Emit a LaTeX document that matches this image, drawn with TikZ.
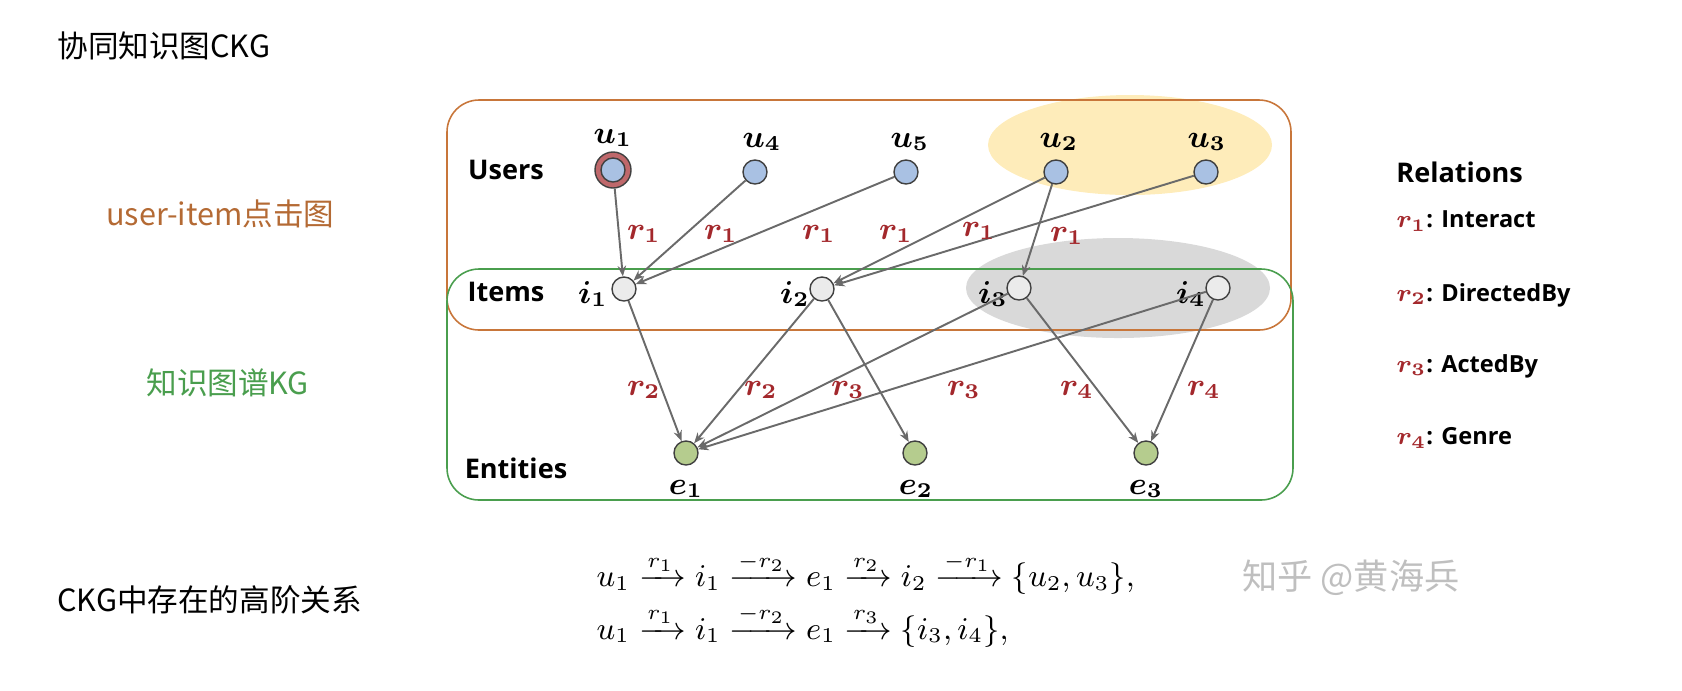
\documentclass[tikz,border=0pt]{standalone}
\usepackage{fontspec}
\usepackage{amsmath,bm}
\setmainfont{Open Sans}
\newfontfamily\cjk{Noto Sans CJK SC}
\usetikzlibrary{arrows.meta}
\definecolor{rred}{HTML}{A3282C}
\definecolor{ublue}{HTML}{A9C1E3}
\definecolor{egreen}{HTML}{B5CC8E}
\definecolor{obox}{HTML}{C8763A}
\definecolor{gbox}{HTML}{4A9E4E}
\definecolor{edge}{HTML}{6A6A6A}
\begin{document}
\begin{tikzpicture}[x=0.01cm,y=-0.01cm,
  user/.style={circle,draw=black!75,line width=0.4pt,fill=ublue,minimum size=0.24cm,inner sep=0},
  item/.style={circle,draw=black!75,line width=0.4pt,fill=black!8,minimum size=0.24cm,inner sep=0},
  ent/.style={circle,draw=black!75,line width=0.4pt,fill=egreen,minimum size=0.24cm,inner sep=0},
  lab/.style={font=\fontsize{8.7}{10}\selectfont},
  row/.style={font=\fontsize{7.7}{9}\selectfont\bfseries},
  rl/.style={text=rred,font=\fontsize{8.7}{10}\selectfont},
  rel/.style={font=\fontsize{6.7}{8}\selectfont\bfseries,anchor=west},
  ar/.style={draw=edge,line width=0.55pt,-{Stealth[length=3pt,width=2.4pt]}},
  cjkt/.style={font=\fontsize{8.7}{10}\selectfont\cjk,anchor=west}]
\useasboundingbox (0,0) rectangle (1682,690);
% ellipses
\fill[fill=yellow!50!orange!25] (1130,145) ellipse [x radius=142,y radius=50];
\fill[fill=black!15] (1118,288) ellipse [x radius=152,y radius=50];
% boxes
\draw[obox,line width=0.45pt,rounded corners=0.32cm] (447,100) rectangle (1291,330);
\draw[gbox,line width=0.45pt,rounded corners=0.32cm] (447,269) rectangle (1293,500);
% nodes
\node[circle,draw=black!75,line width=0.4pt,fill=rred!70,minimum size=0.36cm,inner sep=0] (u1o) at (613,170) {};
\node[user] (u1) at (613,170) {};
\node[user] (u4) at (755,172) {};
\node[user] (u5) at (906,172) {};
\node[user] (u2) at (1056,172) {};
\node[user] (u3) at (1206,172) {};
\node[item] (i1) at (624,289) {};
\node[item] (i2) at (822,289) {};
\node[item] (i3) at (1019,288) {};
\node[item] (i4) at (1218,288) {};
\node[ent] (e1) at (686,453) {};
\node[ent] (e2) at (915,453) {};
\node[ent] (e3) at (1146,453) {};
% node labels
\node[lab] (lu1) at (613,138) {$\bm{u_1}$};
\node[lab] (lu4) at (762,142) {$\bm{u_4}$};
\node[lab] (lu5) at (910,142) {$\bm{u_5}$};
\node[lab] (lu2) at (1059,142) {$\bm{u_2}$};
\node[lab] (lu3) at (1207,142) {$\bm{u_3}$};
\node[lab] (li1) at (593,294) {$\bm{i_1}$};
\node[lab] (li2) at (795,294) {$\bm{i_2}$};
\node[lab] (li3) at (993,294) {$\bm{i_3}$};
\node[lab] (li4) at (1191,294) {$\bm{i_4}$};
\node[lab] (le1) at (686,489) {$\bm{e_1}$};
\node[lab] (le2) at (916,489) {$\bm{e_2}$};
\node[lab] (le3) at (1146,489) {$\bm{e_3}$};
% rows
\node[row] (ru) at (506,170) {Users};
\node[row] (ri) at (506,292) {Items};
\node[row] (re) at (516,468) {Entities};
% edges
\draw[ar] (u1o) -- (i1);
\draw[ar] (u4) -- (i1);
\draw[ar] (u5) -- (i1);
\draw[ar] (u2) -- (i2);
\draw[ar] (u3) -- (i2);
\draw[ar] (u2) -- (i3);
\draw[ar] (i1) -- (e1);
\draw[ar] (i2) -- (e1);
\draw[ar] (i2) -- (e2);
\draw[ar] (i3) -- (e1);
\draw[ar] (i4) -- (e1);
\draw[ar] (i3) -- (e3);
\draw[ar] (i4) -- (e3);
% edge labels
\node[rl] (a1) at (644,234) {$\bm{r_1}$};
\node[rl] (a2) at (721,234) {$\bm{r_1}$};
\node[rl] (a3) at (819,234) {$\bm{r_1}$};
\node[rl] (a4) at (896,234) {$\bm{r_1}$};
\node[rl] (a5) at (979,231) {$\bm{r_1}$};
\node[rl] (a6) at (1067,236) {$\bm{r_1}$};
\node[rl] (b1) at (644,390) {$\bm{r_2}$};
\node[rl] (b2) at (761,390) {$\bm{r_2}$};
\node[rl] (b3) at (848,390) {$\bm{r_3}$};
\node[rl] (b4) at (964,390) {$\bm{r_3}$};
\node[rl] (b5) at (1077,390) {$\bm{r_4}$};
\node[rl] (b6) at (1204,390) {$\bm{r_4}$};
% relations
\node[rel,font=\fontsize{7.7}{9}\selectfont\bfseries] (rt) at (1384,172) {Relations};
\node[rel] (rr1) at (1384,221) {\textcolor{rred}{$\bm{r_1}$}: Interact};
\node[rel] (rr2) at (1384,295) {\textcolor{rred}{$\bm{r_2}$}: DirectedBy};
\node[rel] (rr3) at (1384,366) {\textcolor{rred}{$\bm{r_3}$}: ActedBy};
\node[rel] (rr4) at (1384,438) {\textcolor{rred}{$\bm{r_4}$}: Genre};
% left texts
\node[cjkt] (t1) at (45,46) {协同知识图CKG};
\node[cjkt,text=obox!90!black] (t2) at (94,214) {user-item点击图};
\node[cjkt,text=gbox] (t3) at (134,383) {知识图谱KG};
\node[cjkt] (t4) at (45,600) {CKG中存在的高阶关系};
\node[cjkt,text=black!25,font=\fontsize{10}{12}\selectfont\cjk] (wm) at (1230,578) {知乎 @黄海兵};
% formula
\node[anchor=west,font=\fontsize{8.9}{12}\selectfont,inner sep=0] (f) at (596,601) {%
$\begin{aligned}
&u_1 \xrightarrow{r_1} i_1 \xrightarrow{-r_2} e_1 \xrightarrow{r_2} i_2 \xrightarrow{-r_1} \{u_2,u_3\},\\[-3pt]
&u_1 \xrightarrow{r_1} i_1 \xrightarrow{-r_2} e_1 \xrightarrow{r_3} \{i_3,i_4\},
\end{aligned}$};
\end{tikzpicture}
\end{document}
